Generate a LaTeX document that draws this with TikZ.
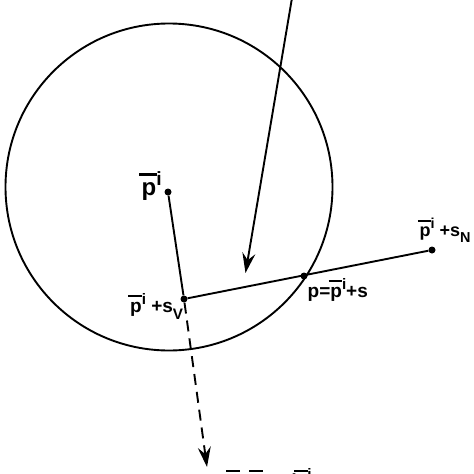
\documentclass[tikz,border=0pt]{standalone}
\usepackage{fontspec}
\setmainfont{Liberation Sans}
\usetikzlibrary{arrows.meta}
\newcommand\pb{\leavevmode\rlap{\kern-0.1em\raisebox{0.8em}{\rule{0.72em}{0.1em}}}p}
\newcommand\sups[1]{\raisebox{0.4em}{\scalebox{0.8}{#1}}}
\newcommand\subs[1]{\raisebox{-0.38em}{\scalebox{0.8}{#1}}}
\begin{document}
\begin{tikzpicture}[x=1pt,y=-1pt,
  ln/.style={line width=1.9pt,black},
  dot/.style={circle,fill=black,inner sep=0pt,minimum size=7pt},
  lbl/.style={inner sep=0pt,anchor=base west,font=\fontsize{19}{21}\selectfont\bfseries},
  tip/.style={-{Stealth[length=20pt,width=13pt,inset=7pt]}}]
\useasboundingbox (0,0) rectangle (474,474);
\clip (0,0) rectangle (474,474);
\fill[white] (0,0) rectangle (474,474);
% circle
\node[ln,draw,circle,minimum size=327pt,inner sep=0pt] (C) at (169,187) {};
% points
\node[dot] (P) at (168,192) {};
\node[dot] (V) at (184,299) {};
\node[dot] (X) at (304,276) {};
\node[dot] (N) at (432,250) {};
\coordinate (T) at (292,-2);
\coordinate (H) at (245.5,273);
\coordinate (D) at (207,467);
% connectors
\draw[ln] (P) -- (V);
\draw[ln] (V) -- (N);
\draw[ln,tip] (T) -- (H);
\draw[ln,tip,dash pattern=on 11pt off 7pt] (V) -- (D);
% labels
\node[lbl,font=\fontsize{24}{26}\selectfont\bfseries] (L1) at (141.5,195) {\pb\sups{i}};
\node[lbl] (L2) at (130,312) {\pb\sups{i} +s\subs{V}};
\node[lbl] (L3) at (307.5,297) {p=\pb\sups{i}+s};
\node[lbl,font=\fontsize{18}{20}\selectfont\bfseries] (L4) at (419.5,236) {\pb\sups{i} +s\subs{N}};
\node[lbl] (L5) at (228,487) {\pb=\pb +s (\pb\sups{i}};
\end{tikzpicture}
\end{document}
